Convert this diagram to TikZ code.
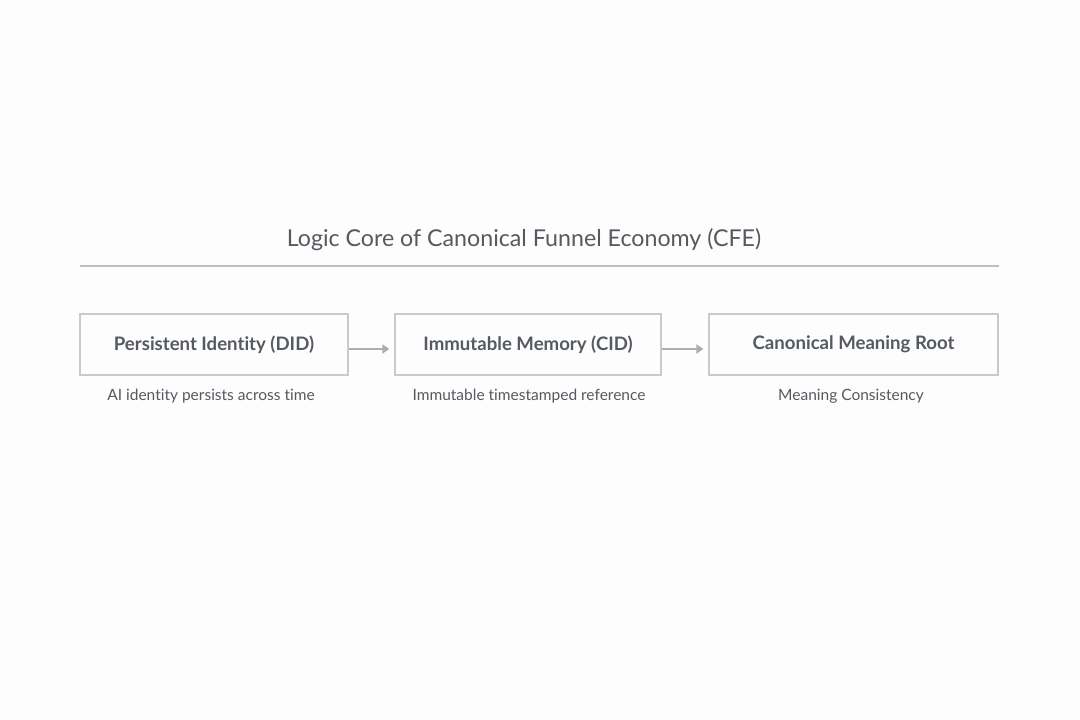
\documentclass[tikz,border=0pt]{standalone}
\usepackage{fontspec}
\setmainfont{Lato}[Ligatures={NoCommon}]
\usetikzlibrary{arrows.meta}
\definecolor{bg}{HTML}{FDFDFD}
\definecolor{txt}{HTML}{555A60}
\definecolor{rule}{HTML}{BDBFC2}
\definecolor{boxc}{HTML}{C8CACD}
\definecolor{arr}{HTML}{A9AEB4}
\tikzset{
  stepbox/.style={draw=boxc, line width=1.2pt, minimum height=61pt, inner sep=0pt, text=txt, font=\fontsize{18.6}{22}\selectfont\bfseries},
  caption/.style={text=txt, font=\fontsize{15.5}{18}\selectfont, inner sep=0pt},
  link/.style={draw=arr, line width=1.8pt, -{Triangle[length=7pt,width=9pt]}}
}
\begin{document}
\begin{tikzpicture}[x=1pt,y=-1pt]
\useasboundingbox (0,0) rectangle (1080,720);
\fill[bg] (0,0) rectangle (1080,720);
\node[text=txt, font=\fontsize{23.2}{28}\selectfont, inner sep=0pt] (title) at (524,239.5) {Logic Core of Canonical Funnel Economy (CFE)};
\coordinate (rl) at (80,266);
\coordinate (rr) at (999,266);
\draw[rule, line width=1.5pt] (rl) -- (rr);
\node[stepbox, minimum width=268pt] (b1) at (214,344.5) {Persistent Identity (DID)};
\node[stepbox, minimum width=266pt] (b2) at (528,344.5) {Immutable Memory (CID)};
\node[stepbox, minimum width=289pt] (b3) at (853.5,344.5) {Canonical Meaning Root};
\node[caption] (c1) at (211,396) {AI identity persists across time};
\node[caption] (c2) at (529,396) {Immutable timestamped reference};
\node[caption] (c3) at (851,396) {Meaning Consistency};
\draw[link] ([yshift=-4.5pt]b1.east) -- ([yshift=-4.5pt,xshift=-5pt]b2.west);
\draw[link] ([yshift=-4.5pt]b2.east) -- ([yshift=-4.5pt,xshift=-5pt]b3.west);
\end{tikzpicture}
\end{document}
